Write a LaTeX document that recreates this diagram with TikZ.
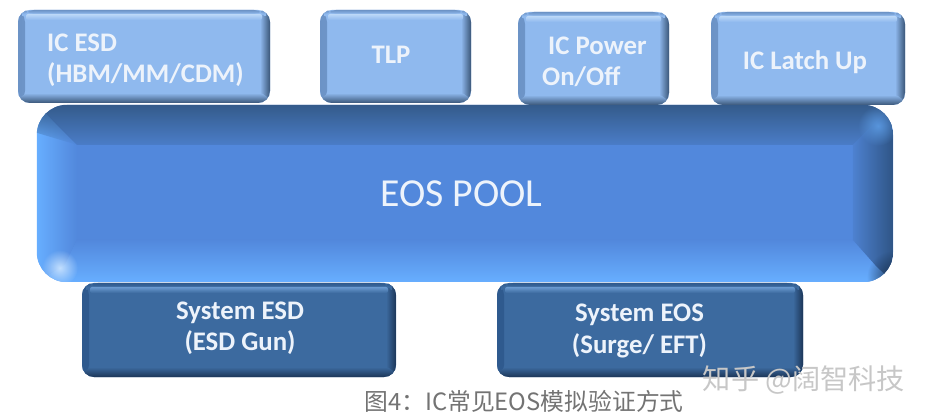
\documentclass[tikz,border=0pt]{standalone}
\usepackage{fontspec}
\usetikzlibrary{fadings}
\setmainfont{Carlito}
\newfontfamily\cjk{Noto Sans CJK SC}
\definecolor{lightface}{HTML}{8FB9EE}
\definecolor{lightglow}{HTML}{BCD8F8}
\definecolor{lightedge}{HTML}{6C93C6}
\definecolor{lightdark}{HTML}{3A5678}
\definecolor{darkface}{HTML}{3C6A9F}
\definecolor{darkglow}{HTML}{6A9AD0}
\definecolor{darkedge}{HTML}{2F5A8E}
\definecolor{darkdark}{HTML}{1C3658}
\definecolor{poolface}{HTML}{5288DC}
\definecolor{poolsky}{HTML}{67AEFF}
\definecolor{pooltop}{HTML}{345B8B}
\definecolor{poolright}{HTML}{2F5586}
\definecolor{boxtxt}{HTML}{EDF3FB}
\tikzfading[name=softblob,inner color=transparent!0,outer color=transparent!100]
\tikzset{
bevelbox/.style n args={5}{rounded corners=12pt,fill=#1,inner sep=0pt,
  path picture={
  \shade[left color=#4,right color=#1](path picture bounding box.north west)rectangle([xshift=7pt]path picture bounding box.south west);
  \shade[left color=#1,right color=#5]([xshift=-10pt]path picture bounding box.north east)rectangle(path picture bounding box.south east);
  \shade[top color=#1,bottom color=#5]([yshift=10pt]path picture bounding box.south west)rectangle(path picture bounding box.south east);
  \shade[top color=#3,bottom color=#1]([xshift=4pt]path picture bounding box.north west)rectangle([xshift=-4pt,yshift=-4pt]path picture bounding box.north east);
  \shade[top color=#2,bottom color=#1,rounded corners=2pt]([xshift=8pt,yshift=-4pt]path picture bounding box.north west)rectangle([xshift=-8pt,yshift=-10pt]path picture bounding box.north east);
  }},
icbox/.style={bevelbox={lightface}{lightglow}{lightedge}{lightedge}{lightdark}},
sysbox/.style={bevelbox={darkface}{darkglow}{darkedge}{darkedge}{darkdark}},
boxtext/.style={text=boxtxt,font=\fontsize{26.8}{31.5}\selectfont\bfseries,align=left,inner sep=0pt},
blob/.style={path fading=softblob},
}
\begin{document}
\begin{tikzpicture}[x=1pt,y=-1pt]
\useasboundingbox(0,0)rectangle(928,419);
% pool
\node[rounded corners=30pt,fill=poolface,minimum width=856pt,minimum height=177pt,inner sep=0pt](pool)at(465,193.5){};
\begin{scope}
\clip[rounded corners=30pt](pool.north west)rectangle(pool.south east);
\begin{scope}[shift={(pool.north west)}]
\shade[left color=poolsky,right color=poolface](0,0)--(40,40)--(40,135)--(28,160)--(0,177)--cycle;
\shade[top color=poolface,bottom color=poolsky](40,135)--(816,135)--(840,162)--(856,177)--(0,177)--(28,160)--cycle;
\shade[left color=poolface!85!pooltop,right color=poolright](816,40)--(856,0)--(856,177)--(840,162)--(816,135)--cycle;
\shade[top color=pooltop,middle color=pooltop!85!poolface,bottom color=poolface!75!pooltop](0,0)--(856,0)--(816,40)--(40,40)--cycle;
\fill[pooltop,path fading=south](0,0)--(40,40)--(0,28)--cycle;
\fill[blob,white!60!poolsky](23,163)circle(18);
\fill[blob,poolsky!70!pooltop](841,21)circle(20);
\fill[blob,darkdark](856,172)circle(26);
\end{scope}
\end{scope}
\node[text=boxtxt,font=\fontsize{39.7}{44}\selectfont,inner sep=0pt](pool text)at(461.5,194){EOS POOL};
% top row
\node[icbox,minimum width=252pt,minimum height=93pt](esd)at(144,56.5){};
\node[icbox,minimum width=151pt,minimum height=93pt](tlp)at(395.5,56.5){};
\node[icbox,minimum width=151pt,minimum height=93pt](power)at(593.5,58.5){};
\node[icbox,minimum width=194pt,minimum height=93pt](latch)at(808,58.5){};
\node[boxtext,anchor=west](esd text)at(47,60){IC ESD\\(HBM/MM/CDM)};
\node[boxtext](tlp text)at(391,55){TLP};
\node[boxtext,anchor=west](power text)at(542,62){\hspace*{6pt}IC Power\\On/Off};
\node[boxtext](latch text)at(805,62){IC Latch Up};
% bottom row
\node[sysbox,minimum width=314pt,minimum height=94pt](sysesd)at(239,330){};
\node[sysbox,minimum width=306pt,minimum height=94pt](syseos)at(650,330){};
\node[boxtext,align=center](sysesd text)at(240,328){System ESD\\(ESD Gun)};
\node[boxtext,align=center](syseos text)at(639.5,331){System EOS\\(Surge/ EFT)};
% caption
\node[text=black!55,font=\fontsize{23.8}{26}\cjk,inner sep=0pt](caption)at(524,401){图4：IC常见EOS模拟验证方式};
\node[text=black!22,font=\fontsize{28.2}{30}\cjk,inner sep=0pt](mark)at(804,380){知乎 @阔智科技};
\end{tikzpicture}
\end{document}
